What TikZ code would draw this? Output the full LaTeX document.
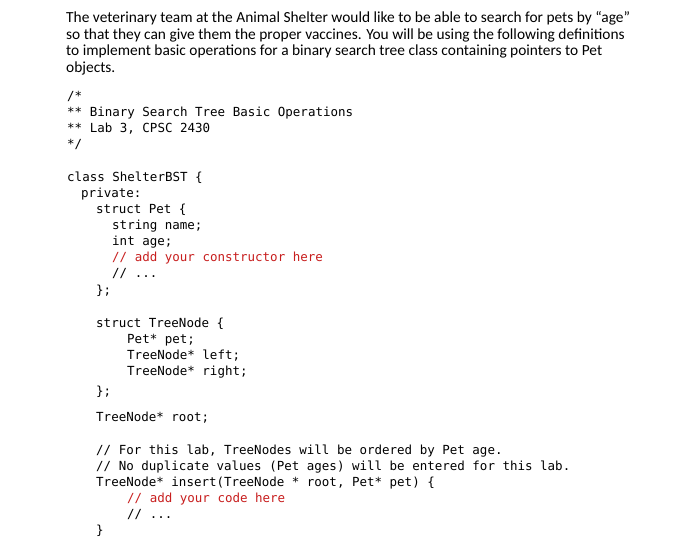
\documentclass[tikz,border=0pt]{standalone}
\usepackage{fontspec}
\setmainfont{Carlito}
\newfontfamily\codef{DejaVu Sans Mono}
\begin{document}
\begin{tikzpicture}[x=1pt,y=-1pt,
 para/.style={anchor=base west,inner sep=0pt,font=\fontsize{15.4}{17}\selectfont},
 code/.style={anchor=base west,inner sep=0pt,font=\codef\fontsize{12.5}{16}\selectfont},
 rc/.style={code,text={rgb,255:red,200;green,30;blue,30}}]
\useasboundingbox[fill=white] (0,0) rectangle (700,559);
\node[para] (p1) at (66,23) {The veterinary team at the Animal Shelter would like to be able to search for pets by “age”};
\node[para] (p2) at (66,39.5) {so that they can give them the proper vaccines. You will be using the following definitions};
\node[para] (p3) at (66,56) {to implement basic operations for a binary search tree class containing pointers to Pet};
\node[para] (p4) at (66,72.5) {objects.};
\node[code] (c1) at (67,100) {/*};
\node[code] (c2) at (67,116) {** Binary Search Tree Basic Operations};
\node[code] (c3) at (67,132) {** Lab 3, CPSC 2430};
\node[code] (c4) at (67,148) {*/};
\node[code] (c5) at (67,181) {class ShelterBST \{};
\node[code] (c6) at (81,197) {private:};
\node[code] (c7) at (96,213) {struct Pet \{};
\node[code] (c8) at (112,229) {string name;};
\node[code] (c9) at (112,245) {int age;};
\node[rc] (c10) at (112,261) {// add your constructor here};
\node[code] (c11) at (112,277) {// ...};
\node[code] (c12) at (96,294) {\};};
\node[code] (c13) at (96,327) {struct TreeNode \{};
\node[code] (c14) at (127,343) {Pet* pet;};
\node[code] (c15) at (127,359) {TreeNode* left;};
\node[code] (c16) at (127,375) {TreeNode* right;};
\node[code] (c17) at (96,395) {\};};
\node[code] (c18) at (96,421) {TreeNode* root;};
\node[code] (c19) at (96,454) {// For this lab, TreeNodes will be ordered by Pet age.};
\node[code] (c20) at (96,470) {// No duplicate values (Pet ages) will be entered for this lab.};
\node[code] (c21) at (96,486) {TreeNode* insert(TreeNode * root, Pet* pet) \{};
\node[rc] (c22) at (127,502) {// add your code here};
\node[code] (c23) at (127,518) {// ...};
\node[code] (c24) at (96,534) {\}};
\end{tikzpicture}
\end{document}
